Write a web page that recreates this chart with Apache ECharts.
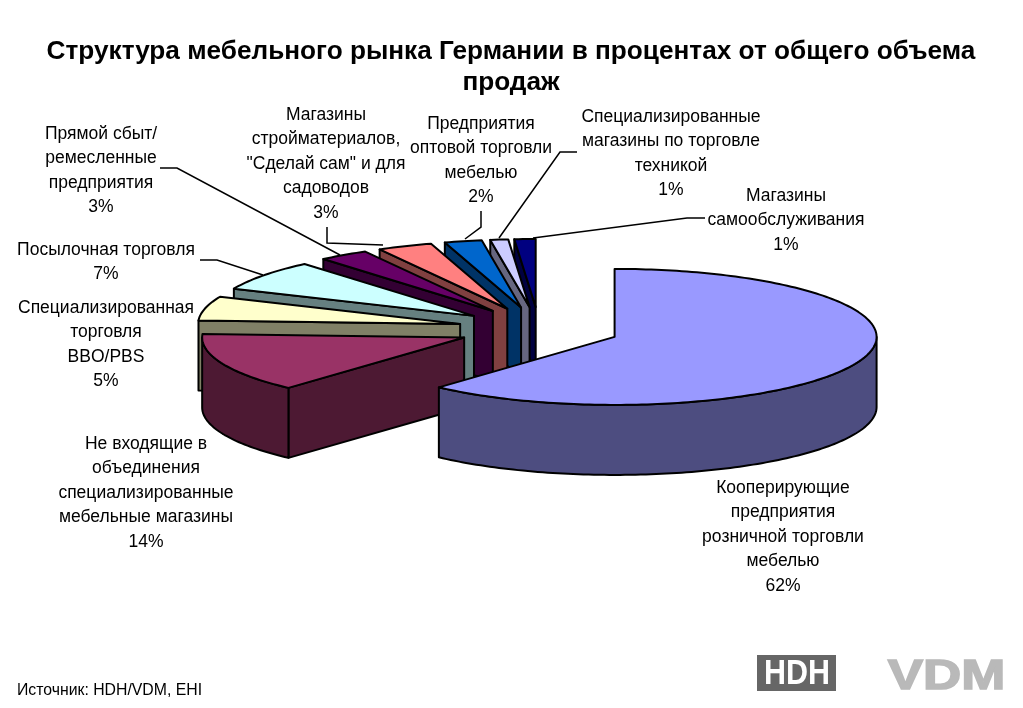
<!DOCTYPE html>
<html><head><meta charset="utf-8">
<style>html,body{margin:0;padding:0;background:#fff}#c{width:1023px;height:708px}</style>
<script src="https://cdn.jsdelivr.net/npm/echarts@6/dist/echarts.min.js"></script>
</head><body><div id="c"></div>
<script>
var names = [
 'Кооперирующие\nпредприятия\nрозничной торговли\nмебелью',
 'Не входящие в\nобъединения\nспециализированные\nмебельные магазины',
 'Специализированная\nторговля\nBBO/PBS',
 'Посылочная торговля',
 'Прямой сбыт/\nремесленные\nпредприятия',
 'Магазины\nстройматериалов,\n"Сделай сам" и для\nсадоводов',
 'Предприятия\nоптовой торговли\nмебелью',
 'Специализированные\nмагазины по торговле\nтехникой',
 'Магазины\nсамообслуживания'
];
var shownPct = [62,14,5,7,3,3,2,1,1];
var values = [61.7,14.1,5.75,7.25,3.1,3.4,2.3,1.1,1.3];
var topColors = ['#9999FF','#993366','#FFFFCC','#CCFFFF','#660066','#FF8080','#0066CC','#CCCCFF','#000080'];
var sideColors = ['#4D4D80','#4D1933','#808066','#668080','#330033','#804040','#003366','#666680','#000040'];
var labelTops = [[783,476],[146,432],[106,296],[106,238],[101,122],[326,103],[481,112],[671,105],[786,184]];
var leaders = [
 null,null,null,
 [[200,260],[217,260],[263,275]],
 [[160,168],[177,168],[340,255]],
 [[327,227],[327,243],[383,245]],
 [[481,211],[481,227],[465,239]],
 [[577,152],[560,152],[499,238]],
 [[705,218],[687,218],[533,238]]
];

var cx=539, cy=329, rx=262, ry=68, depth=70, ex=81, ey=22;
var total = values.reduce(function(a,b){return a+b;},0);
var starts=[], acc=0;
values.forEach(function(v){starts.push(acc/total*2*Math.PI); acc+=v;});
function pt(a0,b0,t,dy){return [a0+rx*Math.sin(t), b0-ry*Math.cos(t)+(dy||0)];}
var stroke={stroke:'#000',lineWidth:2,lineJoin:'round'};
function poly(points,fill){return {type:'polygon',shape:{points:points},style:Object.assign({fill:fill},stroke)};}

function renderItem(params,api){
  var i=api.value(0), t1=starts[i], t2=t1+values[i]/total*2*Math.PI, mid=(t1+t2)/2;
  var a0=cx+ex*Math.sin(mid), b0=cy-ey*Math.cos(mid);
  var arc=[], n=Math.max(4,Math.ceil((t2-t1)/0.02));
  for(var k=0;k<=n;k++) arc.push(t1+(t2-t1)*k/n);
  var kids=[];
  if(t1>Math.PI){
    var p=pt(a0,b0,t1);
    kids.push(poly([[a0,b0],p,[p[0],p[1]+depth],[a0,b0+depth]],sideColors[i]));
  }
  var lo=Math.max(t1,Math.PI/2), hi=Math.min(t2,Math.PI*1.5);
  if(hi>lo){
    var up=[],dn=[],m=Math.ceil((hi-lo)/0.02);
    for(var j=0;j<=m;j++){var t=lo+(hi-lo)*j/m; up.push(pt(a0,b0,t)); dn.unshift(pt(a0,b0,t,depth));}
    kids.push(poly(up.concat(dn),sideColors[i]));
  }
  kids.push(poly([[a0,b0]].concat(arc.map(function(t){return pt(a0,b0,t);})),topColors[i]));
  return {type:'group',children:kids};
}

var font='"Liberation Sans",Arial,sans-serif';
var graphics=[];
names.forEach(function(nm,i){
  graphics.push({type:'text',x:labelTops[i][0],y:labelTops[i][1],z:10,
    style:{text:nm+'\n'+shownPct[i]+'%',fill:'#000',font:'17.5px '+font,lineHeight:24.4,align:'center',verticalAlign:'top'}});
  if(leaders[i]) graphics.push({type:'polyline',z:9,shape:{points:leaders[i]},style:{stroke:'#000',lineWidth:1.5,fill:null}});
});
graphics.push({type:'text',x:17,y:683,style:{text:'Источник: HDH/VDM, EHI',fill:'#000',font:'15.8px '+font}});
graphics.push({type:'rect',shape:{x:757,y:655,width:79,height:36},style:{fill:'#666'}});
graphics.push({type:'text',x:797,y:674,scaleX:0.87,style:{text:'HDH',fill:'#fff',font:'bold 35px '+font,align:'center',verticalAlign:'middle'}});
graphics.push({type:'text',x:946.5,y:677,scaleX:1.26,style:{text:'VDM',fill:'#b9b9b9',stroke:'#b9b9b9',lineWidth:1.5,font:'bold 42px '+font,align:'center',verticalAlign:'middle'}});

var order=[8,7,6,5,4,3,2,1,0];
var chart=echarts.init(document.getElementById('c'),null,{renderer:'canvas'});
chart.setOption({
  backgroundColor:'#fff',animation:false,
  title:{text:'Структура мебельного рынка Германии в процентах от общего объема\nпродаж',left:506,top:31,
    textAlign:'center',
    textStyle:{fontFamily:font,fontWeight:'bold',fontSize:26.2,lineHeight:31,color:'#000'}},
  series:[{type:'custom',coordinateSystem:'none',renderItem:renderItem,data:order.map(function(i){return [i,values[i]];}),silent:true}],
  graphic:graphics
});
</script></body></html>
